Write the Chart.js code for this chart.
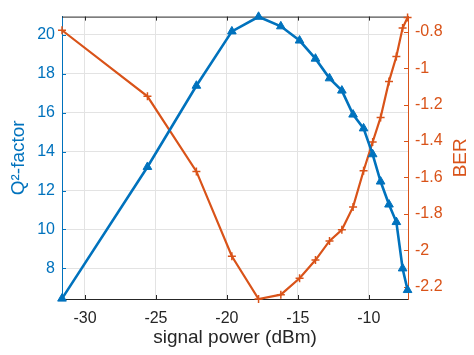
<!DOCTYPE html>
<html>
<head>
<meta charset="utf-8">
<script src="https://cdn.jsdelivr.net/npm/chart.js@4/dist/chart.umd.min.js"></script>
<style>
html,body{margin:0;padding:0;background:#fff;}
#wrap{width:474px;height:355px;}
</style>
</head>
<body>
<div id="wrap"><canvas id="c" width="474" height="355"></canvas></div>
<script>
// signal power (dBm)
const signalPower = [-31.62, -25.6, -22.15, -19.65, -17.77, -16.2, -14.88, -13.76, -12.77, -11.9, -11.11, -10.37, -9.73, -9.17, -8.58, -8.06, -7.62, -7.27];
// Q^2-factor (left axis)
const q2Factor = [6.45, 13.21, 17.38, 20.17, 20.92, 20.43, 19.70, 18.77, 17.76, 17.13, 15.90, 15.19, 13.86, 12.46, 11.28, 10.38, 8.0, 6.89];
// BER (log10, right axis)
const berLog = [-0.791, -1.154, -1.567, -2.033, -2.268, -2.244, -2.154, -2.054, -1.949, -1.888, -1.762, -1.563, -1.405, -1.27, -1.072, -0.935, -0.779, -0.721];
// tick labels
const xTicks = [-30, -25, -20, -15, -10];
const qTicks = [8, 10, 12, 14, 16, 18, 20];
const berTicks = [-2.2, -2, -1.8, -1.6, -1.4, -1.2, -1, -0.8];

const BLUE = '#0072BD', ORANGE = '#D95319', DARK = '#262626', GRID = '#e3e3e3';
const FONT = '"Liberation Sans", Arial, Helvetica, sans-serif';

const fmt = v => String(Number(v.toFixed(2)));

const decor = {
  id: 'decor',
  beforeDatasetsDraw(chart) {
    const {ctx, chartArea: a, scales} = chart;
    ctx.save();
    ctx.lineWidth = 1;
    ctx.strokeStyle = DARK;
    ctx.beginPath(); ctx.moveTo(a.left, a.top + 0.5); ctx.lineTo(a.right, a.top + 0.5); ctx.stroke();
    scales.x.ticks.forEach(t => {
      const px = Math.round(scales.x.getPixelForValue(t.value)) + 0.5;
      ctx.beginPath();
      ctx.moveTo(px, a.bottom); ctx.lineTo(px, a.bottom - 4);
      ctx.moveTo(px, a.top); ctx.lineTo(px, a.top + 4);
      ctx.stroke();
    });
    ctx.strokeStyle = BLUE;
    scales.y.ticks.forEach(t => {
      const py = Math.round(scales.y.getPixelForValue(t.value)) + 0.5;
      ctx.beginPath(); ctx.moveTo(a.left, py); ctx.lineTo(a.left + 4, py); ctx.stroke();
    });
    ctx.strokeStyle = ORANGE;
    scales.y2.ticks.forEach(t => {
      const py = Math.round(scales.y2.getPixelForValue(t.value)) + 0.5;
      ctx.beginPath(); ctx.moveTo(a.right, py); ctx.lineTo(a.right - 4, py); ctx.stroke();
    });
    ctx.restore();
  },
  afterDraw(chart) {
    const {ctx, chartArea: a} = chart;
    ctx.save();
    ctx.translate(461, (a.top + a.bottom) / 2);
    ctx.rotate(-Math.PI / 2);
    ctx.fillStyle = ORANGE;
    ctx.font = '19px ' + FONT;
    ctx.textAlign = 'center';
    ctx.textBaseline = 'middle';
    ctx.fillText('BER', 0, 0);
    ctx.restore();
  }
};

new Chart(document.getElementById('c'), {
  type: 'line',
  data: {
    datasets: [
      {
        label: 'Q2',
        data: signalPower.map((x, i) => ({x, y: q2Factor[i]})),
        yAxisID: 'y',
        borderColor: BLUE,
        backgroundColor: BLUE,
        borderWidth: 2.6,
        pointStyle: 'triangle',
        pointRadius: 5,
        pointBorderWidth: 1,
        tension: 0,
        clip: 6
      },
      {
        label: 'BER',
        data: signalPower.map((x, i) => ({x, y: berLog[i]})),
        yAxisID: 'y2',
        borderColor: ORANGE,
        backgroundColor: ORANGE,
        borderWidth: 2.2,
        pointStyle: 'cross',
        pointRadius: 4,
        pointBorderWidth: 1.5,
        tension: 0,
        clip: 6
      }
    ]
  },
  options: {
    responsive: false,
    animation: false,
    events: [],
    layout: {padding: {top: 4, right: 0, left: 0, bottom: 0}},
    plugins: {legend: {display: false}, tooltip: {enabled: false}},
    scales: {
      x: {
        type: 'linear',
        position: 'bottom',
        min: -31.62,
        max: -7.24,
        afterBuildTicks: s => { s.ticks = xTicks.map(v => ({value: v})); },
        afterFit: s => { s.height = 56; },
        ticks: {color: DARK, font: {family: FONT, size: 16}, padding: 10, maxRotation: 0, callback: v => fmt(v)},
        grid: {color: GRID, drawTicks: false},
        border: {color: DARK, width: 1},
        title: {display: true, text: 'signal power (dBm)', color: DARK, font: {family: FONT, size: 19}, padding: {top: 0, bottom: 6}}
      },
      y: {
        type: 'linear',
        position: 'left',
        min: 6.43,
        max: 20.93,
        afterBuildTicks: s => { s.ticks = qTicks.map(v => ({value: v})); },
        afterFit: s => { s.width = 62; },
        ticks: {color: BLUE, font: {family: FONT, size: 16}, padding: 7, callback: v => fmt(v)},
        grid: {color: GRID, drawTicks: false},
        border: {color: BLUE, width: 1},
        title: {display: true, text: 'Q²-factor', color: BLUE, font: {family: FONT, size: 19}, padding: {top: 7, bottom: 0}}
      },
      y2: {
        type: 'linear',
        position: 'right',
        min: -2.268,
        max: -0.716,
        afterBuildTicks: s => { s.ticks = berTicks.map(v => ({value: v})); },
        afterFit: s => { s.width = 66; },
        ticks: {color: ORANGE, font: {family: FONT, size: 16}, padding: 7, callback: v => fmt(v)},
        grid: {display: false, drawTicks: false},
        border: {color: ORANGE, width: 1}
      }
    }
  },
  plugins: [decor]
});
</script>
</body>
</html>
